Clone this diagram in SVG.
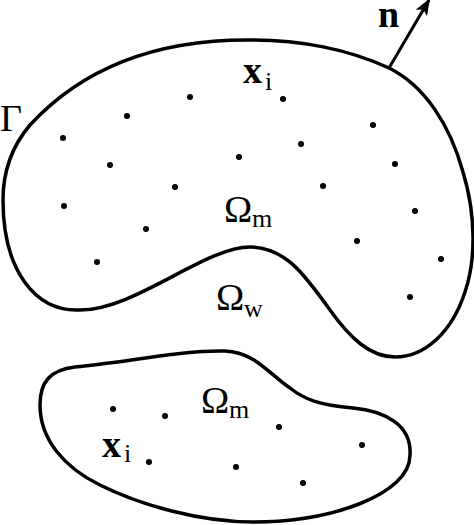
<svg xmlns="http://www.w3.org/2000/svg" width="474" height="525" viewBox="0 0 474 525">
<style>
.b{fill:none;stroke:#000;stroke-width:3.5;stroke-linejoin:round}
.d{fill:#000}
.t{font-family:"Liberation Serif","DejaVu Serif",serif;fill:#000}
.bf{font-weight:bold}
.s{font-size:26px}
.m{font-size:38px}
</style>
<defs>
<marker id="ah" viewBox="0 0 17 13" refX="15" refY="6.5" markerWidth="17" markerHeight="13" markerUnits="userSpaceOnUse" orient="auto">
<path d="M0,0 L17,6.5 L0,13 L4,6.5 Z" fill="#000"/>
</marker>
</defs>
<g id="upper-region">
<path class="b" d="M247,40 C300,39 350,50 389,68 C425,86 450,125 463,172 C476,215 476,260 465,292 C452,332 425,357 395,357 C370,357 350,338 330,310 C305,275 285,247 250,247 C205,247 135,310 80,310 C35,312 3,270 3,200 C3,170 13,145 30,125 C90,60 170,40 247,40 Z"/>
<g class="d">
<circle cx="190" cy="97" r="3"/><circle cx="127" cy="116" r="3"/><circle cx="63" cy="138" r="3"/>
<circle cx="283" cy="99" r="3"/><circle cx="373" cy="125" r="3"/><circle cx="301" cy="144" r="3"/>
<circle cx="239" cy="157" r="3"/><circle cx="110" cy="165" r="3"/><circle cx="395" cy="164" r="3"/>
<circle cx="175" cy="187" r="3"/><circle cx="323" cy="186" r="3"/><circle cx="64" cy="206" r="3"/>
<circle cx="415" cy="211" r="3"/><circle cx="146" cy="229" r="3"/><circle cx="357" cy="241" r="3"/>
<circle cx="97" cy="262" r="3"/><circle cx="441" cy="259" r="3"/><circle cx="410" cy="297" r="3"/>
</g>
<text class="t m bf" x="243" y="83">x</text><text class="t s" x="265" y="90">i</text>
<text class="t m" x="224" y="222">Ω</text><text class="t s" x="252" y="227">m</text>
<text class="t m" x="0" y="131">Γ</text>
</g>
<g id="wall-region">
<text class="t m" x="216" y="310">Ω</text><text class="t s" x="244" y="317">w</text>
</g>
<g id="lower-region">
<path class="b" d="M40,405 C40,382 50,370 75,367 C130,362 180,350 225,351 C255,352 270,375 290,388 C305,400 320,405 353,408 C385,411 412,425 410,455 C410,495 330,522 253,522 C200,522 140,505 100,485 C65,468 40,440 40,405 Z"/>
<g class="d">
<circle cx="113" cy="409" r="3"/><circle cx="165" cy="416" r="3"/><circle cx="279" cy="427" r="3"/>
<circle cx="362" cy="445" r="3"/><circle cx="149" cy="462" r="3"/><circle cx="236" cy="467" r="3"/>
<circle cx="303" cy="483" r="3"/>
</g>
<text class="t m" x="201" y="413">Ω</text><text class="t s" x="229" y="418">m</text>
<text class="t m bf" x="102" y="457">x</text><text class="t s" x="124" y="462">i</text>
</g>
<g id="connectors">
<line x1="389" y1="68" x2="429" y2="0" stroke="#000" stroke-width="3" marker-end="url(#ah)"/>
<text class="t m bf" x="378" y="27">n</text>
</g>
</svg>
